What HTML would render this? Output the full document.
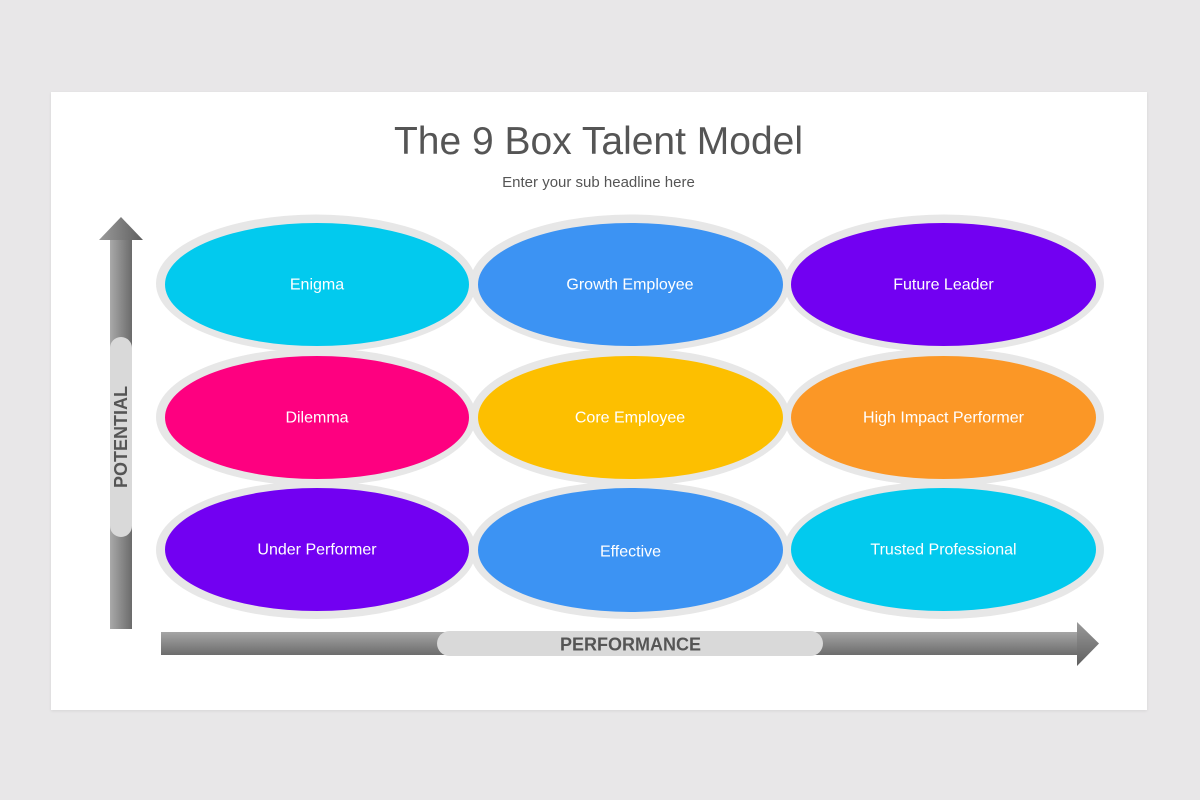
<!DOCTYPE html>
<html>
<head>
<meta charset="utf-8">
<style>
  html,body{margin:0;padding:0;background:#e8e7e8;}
  body{width:1200px;height:800px;position:relative;overflow:hidden;}
  .slide{position:absolute;left:51px;top:92px;width:1096px;height:618px;background:#fff;box-shadow:0 1px 3px rgba(0,0,0,0.08);}
  svg{position:absolute;left:0;top:0;}
  text{font-family:"Liberation Sans",Arial,sans-serif;}
</style>
</head>
<body>
<div class="slide"></div>
<svg width="1200" height="800" viewBox="0 0 1200 800" xmlns="http://www.w3.org/2000/svg">
  <defs>
    <linearGradient id="gv" x1="0" y1="0" x2="1" y2="0">
      <stop offset="0" stop-color="#a9a9a9"/>
      <stop offset="1" stop-color="#6b6b6b"/>
    </linearGradient>
    <linearGradient id="gh" x1="0" y1="0" x2="0" y2="1">
      <stop offset="0" stop-color="#a5a5a5"/>
      <stop offset="1" stop-color="#6c6c6c"/>
    </linearGradient>
    <linearGradient id="ghh" x1="0" y1="0" x2="0" y2="1">
      <stop offset="0" stop-color="#9a9a9a"/>
      <stop offset="1" stop-color="#5f5f5f"/>
    </linearGradient>
    <linearGradient id="gvh" x1="0" y1="0" x2="1" y2="0">
      <stop offset="0" stop-color="#9a9a9a"/>
      <stop offset="1" stop-color="#5f5f5f"/>
    </linearGradient>
  </defs>

  <!-- Title -->
  <text x="598.5" y="154" text-anchor="middle" font-size="39" fill="#555555">The 9 Box Talent Model</text>
  <text x="598.5" y="187" text-anchor="middle" font-size="15" fill="#555555">Enter your sub headline here</text>

  <!-- Vertical arrow -->
  <rect x="110" y="239" width="22" height="390" fill="url(#gv)"/>
  <polygon points="99,240 121,217 143,240" fill="url(#gvh)"/>
  <rect x="110" y="337" width="22" height="200" rx="11" ry="11" fill="#d9d9d9"/>
  <text transform="translate(127,437) rotate(-90)" text-anchor="middle" font-size="18" font-weight="bold" fill="#555555">POTENTIAL</text>

  <!-- Horizontal arrow -->
  <rect x="161" y="632" width="917" height="23" fill="url(#gh)"/>
  <polygon points="1077,622 1099,643.5 1077,666" fill="url(#ghh)"/>
  <rect x="437" y="631" width="386" height="25" rx="12.5" ry="12.5" fill="#d9d9d9"/>
  <text x="630.5" y="650.5" text-anchor="middle" font-size="18" font-weight="bold" fill="#555555">PERFORMANCE</text>

  <!-- Outer rings -->
  <g fill="#e7e7e7">
    <ellipse cx="316" cy="283.5" rx="160" ry="69"/>
    <ellipse cx="630" cy="283.5" rx="160" ry="69"/>
    <ellipse cx="944" cy="283.5" rx="160" ry="69"/>
    <ellipse cx="316" cy="417" rx="160" ry="69"/>
    <ellipse cx="630" cy="417" rx="160" ry="69"/>
    <ellipse cx="944" cy="417" rx="160" ry="69"/>
    <ellipse cx="316" cy="550" rx="160" ry="69"/>
    <ellipse cx="630" cy="550" rx="160" ry="69"/>
    <ellipse cx="944" cy="550" rx="160" ry="69"/>
  </g>

  <!-- Inner ellipses -->
  <ellipse cx="317" cy="284.5" rx="152" ry="61.5" fill="#02caee"/>
  <ellipse cx="630.5" cy="284.5" rx="152.5" ry="61.5" fill="#3c93f3"/>
  <ellipse cx="943.5" cy="284.5" rx="152.5" ry="61.5" fill="#7200f2"/>
  <ellipse cx="317" cy="417.5" rx="152" ry="61.5" fill="#fe0080"/>
  <ellipse cx="630.5" cy="417.5" rx="152.5" ry="61.5" fill="#fdbf00"/>
  <ellipse cx="943.5" cy="417.5" rx="152.5" ry="61.5" fill="#fb9726"/>
  <ellipse cx="317" cy="549.5" rx="152" ry="61.5" fill="#7200f2"/>
  <ellipse cx="630.5" cy="550" rx="152.5" ry="62" fill="#3c93f3"/>
  <ellipse cx="943.5" cy="549.5" rx="152.5" ry="61.5" fill="#02caee"/>

  <!-- Labels -->
  <g font-size="16" fill="#ffffff" text-anchor="middle">
    <text x="317" y="289.5">Enigma</text>
    <text x="630" y="289.5">Growth Employee</text>
    <text x="943.5" y="289.5">Future Leader</text>
    <text x="317" y="422.5">Dilemma</text>
    <text x="630" y="422.5">Core Employee</text>
    <text x="943.5" y="422.5">High Impact Performer</text>
    <text x="317" y="554.5">Under Performer</text>
    <text x="630.5" y="556.5">Effective</text>
    <text x="943.5" y="554.5">Trusted Professional</text>
  </g>
</svg>
</body>
</html>
